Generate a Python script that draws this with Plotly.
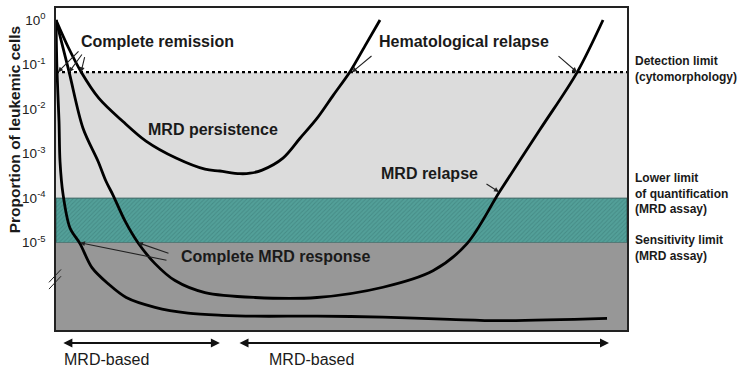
import numpy as np
import plotly.graph_objects as go

# ---------------- data (log10 of proportion of leukemic cells) ----------------
tick_exponents = [0, -1, -2, -3, -4, -5]
tick_labels = ["10<sup>0</sup>", "10<sup>-1</sup>", "10<sup>-2</sup>",
               "10<sup>-3</sup>", "10<sup>-4</sup>", "10<sup>-5</sup>"]

detection_limit_exp = -1.17      # cytomorphology
loq_exp = -4.0                   # lower limit of quantification
sensitivity_exp = -5.0           # sensitivity limit
y_range_exp = [-6.96, 0.27]
x_range = [0, 100]

# MRD persistence -> hematological relapse
persistence_x = [0, 2.1, 4.38, 7.53, 11.73, 15.76, 21.02, 26.09, 28.7, 32.2, 34.0,
                 36.1, 39.75, 42.7, 45.7, 48.6, 51.49, 54.12, 56.74]
persistence_exp = [0, -0.60, -1.16, -1.76, -2.28, -2.72, -3.10, -3.35, -3.39, -3.45, -3.44,
                   -3.37, -3.10, -2.66, -2.21, -1.68, -1.16, -0.58, 0]

# MRD response -> MRD relapse -> hematological relapse
relapse_x = [0, 2.28, 4.73, 7.36, 8.76, 9.98, 12.08, 14.36, 17.34, 20.84, 26.09,
             34.85, 45.71, 57.27, 66.02, 71.98, 77.76, 84.76, 91.24, 95.8]
relapse_exp = [0, -1.16, -2.43, -3.17, -3.62, -3.93, -4.51, -5.0, -5.47, -5.85, -6.12,
               -6.23, -6.23, -6.0, -5.63, -5.02, -3.84, -2.46, -1.18, 0]

# Complete MRD response
response_x = [0, 0.18, 0.53, 0.70, 1.23, 2.45, 4.2, 6.3, 9.11, 12.3, 17.34,
              23.12, 29.07, 34.85, 45.71, 57.27, 69.0, 77.76, 96.5]
response_exp = [0, -1.16, -2.28, -3.17, -3.91, -4.67, -5.02, -5.56, -5.92, -6.23, -6.45,
                -6.58, -6.63, -6.65, -6.65, -6.67, -6.72, -6.75, -6.70]

FONT = "Liberation Sans, Arial, sans-serif"
TXT = "#1a1a1a"

def p(e):
    return np.power(10.0, np.asarray(e, dtype=float))

fig = go.Figure()

# background bands
fig.add_trace(go.Scatter(
    x=[x_range[0], x_range[1], x_range[1], x_range[0], x_range[0]],
    y=p([detection_limit_exp, detection_limit_exp, loq_exp, loq_exp, detection_limit_exp]),
    fill="toself", fillcolor="#dcdcdc", line=dict(width=0), mode="lines",
    hoverinfo="skip", showlegend=False))
fig.add_trace(go.Scatter(
    x=[x_range[0], x_range[1], x_range[1], x_range[0], x_range[0]],
    y=p([loq_exp, loq_exp, sensitivity_exp, sensitivity_exp, loq_exp]),
    fill="toself", fillcolor="#4f9b95",
    fillpattern=dict(shape="/", bgcolor="#53a099", fgcolor="#377672", size=3, solidity=0.3),
    line=dict(width=1, color="#2f5f5b"), mode="lines",
    hoverinfo="skip", showlegend=False))
fig.add_trace(go.Scatter(
    x=[x_range[0], x_range[1], x_range[1], x_range[0], x_range[0]],
    y=p([sensitivity_exp, sensitivity_exp, -9, -9, sensitivity_exp]),
    fill="toself", fillcolor="#979797", line=dict(width=0), mode="lines",
    hoverinfo="skip", showlegend=False))

# detection limit dotted line
fig.add_trace(go.Scatter(
    x=x_range, y=p([detection_limit_exp, detection_limit_exp]),
    mode="lines", line=dict(color="black", width=2.2, dash="dot"),
    hoverinfo="skip", showlegend=False))

# curves
for xs, es in [(persistence_x, persistence_exp), (relapse_x, relapse_exp),
               (response_x, response_exp)]:
    fig.add_trace(go.Scatter(
        x=xs, y=p(es), mode="lines",
        line=dict(color="black", width=2.8, shape="spline", smoothing=0.9),
        hoverinfo="skip", showlegend=False))

annotations = []

def label(text, x, y, size=16, bold=True, xref="x", yref="y", xanchor="left", align="left"):
    annotations.append(dict(
        text=text, x=x, y=y, xref=xref, yref=yref, xanchor=xanchor, yanchor="middle",
        align=align, showarrow=False,
        font=dict(family=FONT, size=size, color=TXT, weight="bold" if bold else "normal")))

def arrow(x, y, ax, ay):
    annotations.append(dict(
        text="", x=x, y=y, ax=ax, ay=ay, xref="x", yref="y", axref="x", ayref="y",
        showarrow=True, arrowhead=2, arrowsize=0.9, arrowwidth=1.1, arrowcolor="#222",
        standoff=0, startstandoff=0))

label("Complete remission", 4.0, -0.49)
label("Hematological relapse", 56.3, -0.49)
label("MRD persistence", 15.8, -2.46)
label("MRD relapse", 56.6, -3.44)
label("Complete MRD response", 21.6, -5.31)

# arrows
arrow(0.35, detection_limit_exp, 4.2, -0.67)
arrow(2.28, detection_limit_exp, 4.73, -0.74)
arrow(4.38, detection_limit_exp, 5.08, -0.80)
arrow(51.84, detection_limit_exp, 55.52, -0.78)
arrow(91.24, detection_limit_exp, 87.74, -0.78)
arrow(77.58, -3.86, 75.13, -3.66)
arrow(4.2, sensitivity_exp, 19.61, -5.40)
arrow(14.36, sensitivity_exp, 19.96, -5.25)

# right-side limit labels
label("Detection limit<br>(cytomorphology)", 1.0105, -1.09, size=12, xref="paper")
label("Lower limit<br>of quantification<br>(MRD assay)", 1.0105, -3.90, size=12, xref="paper")
label("Sensitivity limit<br>(MRD assay)", 1.0105, -5.12, size=12, xref="paper")

# y-axis title
annotations.append(dict(
    text="Proportion of leukemic cells", x=-0.0736, y=0.623, xref="paper", yref="paper",
    textangle=-90, showarrow=False, xanchor="center", yanchor="middle",
    font=dict(family=FONT, size=15.5, color=TXT, weight="bold")))

# bottom double-headed arrows and labels
for x_end, length in [(96.85, 371), (28.7, 158)]:
    annotations.append(dict(
        text="", x=x_end, y=-0.040, xref="x", yref="paper", ax=-length, ay=0,
        axref="pixel", ayref="pixel", showarrow=True, arrowside="end+start",
        arrowhead=2, arrowsize=0.9, arrowwidth=2, arrowcolor="#111",
        standoff=0, startstandoff=0))
label("MRD-based", 1.0, -0.0926, size=16, bold=False, yref="paper")
label("MRD-based", 36.9, -0.0926, size=16, bold=False, yref="paper")

shapes = [
    dict(type="line", xref="paper", yref="paper", x0=-0.0123, y0=0.127, x1=0.0088, y1=0.167,
         line=dict(color="#222", width=1)),
    dict(type="line", xref="paper", yref="paper", x0=-0.0123, y0=0.148, x1=0.0088, y1=0.188,
         line=dict(color="#222", width=1)),
]

fig.update_layout(
    width=743, height=370,
    margin=dict(l=56, r=116, t=6, b=40),
    paper_bgcolor="white", plot_bgcolor="white",
    annotations=annotations, shapes=shapes,
    showlegend=False,
    xaxis=dict(range=x_range, showgrid=False, zeroline=False, showticklabels=False,
               ticks="", showline=True, linecolor="#222", linewidth=1.5, mirror=True),
    yaxis=dict(type="log", range=y_range_exp, showgrid=False, zeroline=False,
               tickvals=list(p(tick_exponents)), ticktext=tick_labels, ticks="",
               ticklabelstandoff=6,
               tickfont=dict(family=FONT, size=13.5, color="#222"),
               showline=True, linecolor="#222", linewidth=1.5, mirror=True),
)

fig.write_html("out.html", config={"displayModeBar": False},
               post_script="document.body.style.margin='0';document.body.style.padding='0';")
